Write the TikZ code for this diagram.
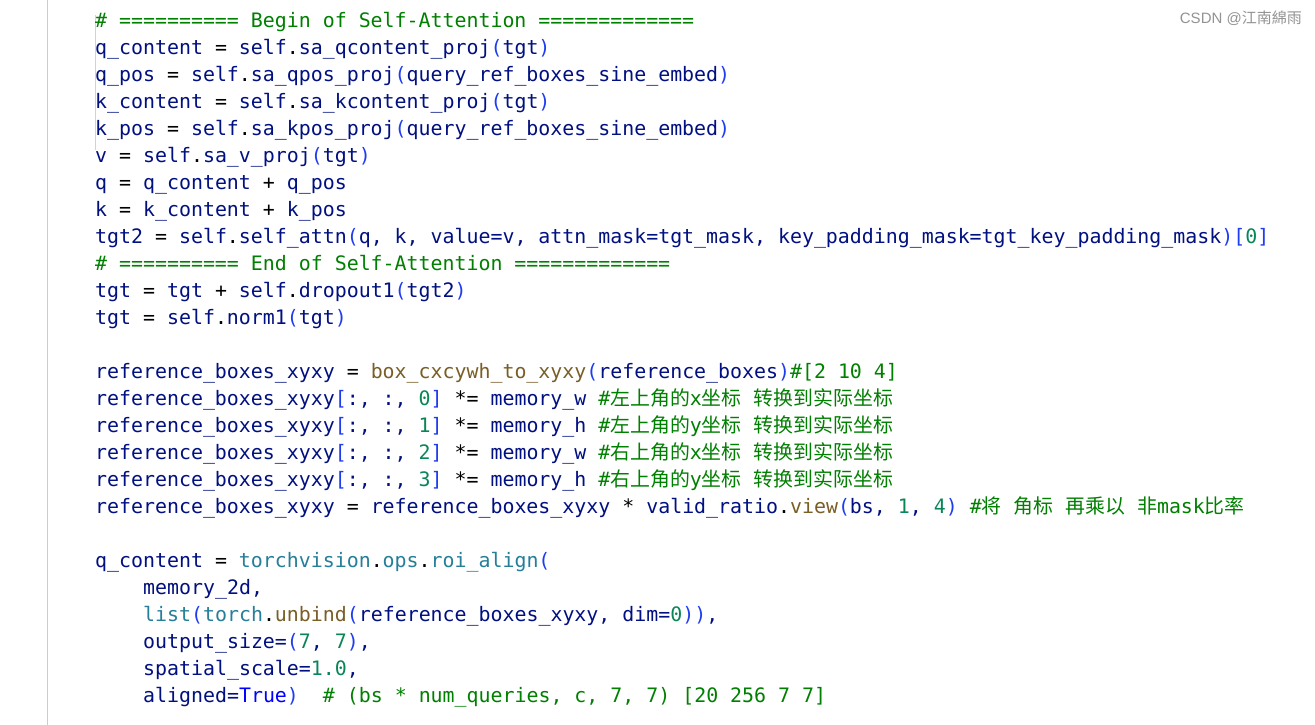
\documentclass[tikz,border=0pt]{standalone}
\usepackage{fontspec}
\setmonofont{DejaVu Sans Mono}
\newfontfamily\cjk{Noto Sans CJK SC}
\newfontfamily\wmfont{Liberation Sans}
\definecolor{cn}{HTML}{001080}
\definecolor{cc}{HTML}{008000}
\definecolor{cp}{HTML}{1E3CF0}
\definecolor{cd}{HTML}{098658}
\definecolor{cf}{HTML}{795E26}
\definecolor{ct}{HTML}{267F99}
\definecolor{ck}{HTML}{0000FF}
\newcommand\Xc[1]{\textcolor{cc}{#1}}
\newcommand\Xp[1]{\textcolor{cp}{#1}}
\newcommand\Xd[1]{\textcolor{cd}{#1}}
\newcommand\Xf[1]{\textcolor{cf}{#1}}
\newcommand\Xt[1]{\textcolor{ct}{#1}}
\newcommand\Xk[1]{\textcolor{ck}{#1}}
\newcommand\Xo[1]{\textcolor{black}{#1}}
\newcommand\Z[1]{{\cjk #1}}
\begin{document}
\begin{tikzpicture}[x=1pt,y=1pt,
  codeline/.style={anchor=west,inner sep=0pt,text height=15pt,text depth=4pt,
    font=\fontsize{19.9}{22}\ttfamily,text=cn}]
\useasboundingbox[fill=white] (0,0) rectangle (1315,725);
\draw[gray!40,line width=1pt] (47,725) -- (47,0);
\draw[gray!35,line width=1pt] (95,575) -- (95,710);
\def\L#1#2#3{\node[codeline] (#1) at (95,725-#2) {#3};}
\def\M#1#2#3{\node[codeline] (#1) at (143,725-#2) {#3};}
\L{l1}{22}{\Xc{\# ========== Begin of Self-Attention =============}}
\L{l2}{49}{q\_content \Xo{=} self\Xo{.}sa\_qcontent\_proj\Xp{(}tgt\Xp{)}}
\L{l3}{76}{q\_pos \Xo{=} self\Xo{.}sa\_qpos\_proj\Xp{(}query\_ref\_boxes\_sine\_embed\Xp{)}}
\L{l4}{103}{k\_content \Xo{=} self\Xo{.}sa\_kcontent\_proj\Xp{(}tgt\Xp{)}}
\L{l5}{130}{k\_pos \Xo{=} self\Xo{.}sa\_kpos\_proj\Xp{(}query\_ref\_boxes\_sine\_embed\Xp{)}}
\L{l6}{157}{v \Xo{=} self\Xo{.}sa\_v\_proj\Xp{(}tgt\Xp{)}}
\L{l7}{184}{q \Xo{=} q\_content \Xo{+} q\_pos}
\L{l8}{211}{k \Xo{=} k\_content \Xo{+} k\_pos}
\L{l9}{238}{tgt2 \Xo{=} self\Xo{.}self\_attn\Xp{(}q, k, value=v, attn\_mask=tgt\_mask, key\_padding\_mask=tgt\_key\_padding\_mask\Xp{)[}\Xd{0}\Xp{]}}
\L{l10}{265}{\Xc{\# ========== End of Self-Attention =============}}
\L{l11}{292}{tgt \Xo{=} tgt \Xo{+} self\Xo{.}dropout1\Xp{(}tgt2\Xp{)}}
\L{l12}{319}{tgt \Xo{=} self\Xo{.}norm1\Xp{(}tgt\Xp{)}}
\L{l13}{373}{reference\_boxes\_xyxy \Xo{=} \Xf{box\_cxcywh\_to\_xyxy}\Xp{(}reference\_boxes\Xp{)}\Xc{\#[2 10 4]}}
\L{l14}{400}{reference\_boxes\_xyxy\Xp{[}:, :, \Xd{0}\Xp{]} \Xo{*=} memory\_w \Xc{\#\Z{左上角的}x\Z{坐标} \Z{转换到实际坐标}}}
\L{l15}{427}{reference\_boxes\_xyxy\Xp{[}:, :, \Xd{1}\Xp{]} \Xo{*=} memory\_h \Xc{\#\Z{左上角的}y\Z{坐标} \Z{转换到实际坐标}}}
\L{l16}{454}{reference\_boxes\_xyxy\Xp{[}:, :, \Xd{2}\Xp{]} \Xo{*=} memory\_w \Xc{\#\Z{右上角的}x\Z{坐标} \Z{转换到实际坐标}}}
\L{l17}{481}{reference\_boxes\_xyxy\Xp{[}:, :, \Xd{3}\Xp{]} \Xo{*=} memory\_h \Xc{\#\Z{右上角的}y\Z{坐标} \Z{转换到实际坐标}}}
\L{l18}{508}{reference\_boxes\_xyxy \Xo{=} reference\_boxes\_xyxy \Xo{*} valid\_ratio\Xo{.}\Xf{view}\Xp{(}bs, \Xd{1}, \Xd{4}\Xp{)} \Xc{\#\Z{将} \Z{角标} \Z{再乘以} \Z{非}mask\Z{比率}}}
\L{l19}{562}{q\_content \Xo{=} \Xt{torchvision}\Xo{.}\Xt{ops}\Xo{.}\Xt{roi\_align}\Xp{(}}
\M{l20}{589}{memory\_2d,}
\M{l21}{616}{\Xt{list}\Xp{(}\Xt{torch}\Xo{.}\Xf{unbind}\Xp{(}reference\_boxes\_xyxy, dim=\Xd{0}\Xp{))},}
\M{l22}{643}{output\_size=\Xp{(}\Xd{7}, \Xd{7}\Xp{)},}
\M{l23}{670}{spatial\_scale=\Xd{1.0},}
\M{l24}{697}{aligned=\Xk{True}\Xp{)}\ \ \Xc{\# (bs * num\_queries, c, 7, 7) [20 256 7 7]}}
\node[anchor=east,inner sep=0pt,font=\fontsize{15}{18}\wmfont,text=gray!85] (wm) at (1302,707) {CSDN @\Z{江南綿雨}};
\end{tikzpicture}
\end{document}
